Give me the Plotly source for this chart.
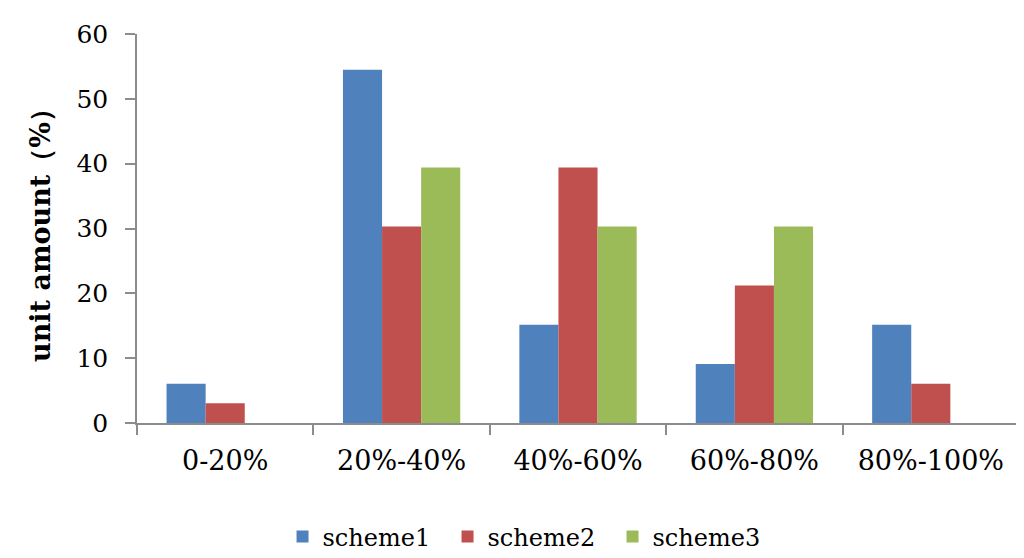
import plotly.graph_objects as go

categories = ['0-20%', '20%-40%', '40%-60%', '60%-80%', '80%-100%']
scheme1 = [6.06, 54.5, 15.15, 9.09, 15.15]
scheme2 = [3.03, 30.3, 39.4, 21.2, 6.06]
scheme3 = [0, 39.4, 30.3, 30.3, 0]

colors = ['#4F81BD', '#C0504D', '#9BBB59']
font = 'DejaVu Serif, serif'

fig = go.Figure()
for name, vals, c in zip(['scheme1', 'scheme2', 'scheme3'],
                         [scheme1, scheme2, scheme3], colors):
    fig.add_trace(go.Bar(x=categories, y=vals, name=name,
                         marker=dict(color=c, line=dict(width=0))))

fig.update_layout(
    width=1024, height=558,
    margin=dict(l=129, r=13, t=26, b=143),
    plot_bgcolor='white', paper_bgcolor='white',
    barmode='group', bargap=0.335, bargroupgap=0,
    font=dict(family=font, size=24, color='black'),
    legend=dict(orientation='h', x=0.165, xanchor='left',
                y=0.052, yref='container', yanchor='middle',
                font=dict(size=24), itemwidth=30, traceorder='normal',
                entrywidth=120, entrywidthmode='pixels'),
    showlegend=True,
)
fig.update_xaxes(showline=True, linecolor='#8c8c8c', linewidth=1.5,
                 ticks='outside', tickson='boundaries', ticklen=10,
                 tickcolor='#8c8c8c', tickwidth=1.5, showgrid=False,
                 tickfont=dict(size=27), ticklabelstandoff=13, automargin=False)
fig.update_yaxes(range=[0, 60], dtick=10, showline=True, linecolor='#8c8c8c',
                 linewidth=1.5, ticks='outside', ticklen=10, tickcolor='#8c8c8c',
                 tickwidth=1.5, showgrid=False, zeroline=False,
                 tickfont=dict(size=25), ticklabelstandoff=12, automargin=False,
                 title=dict(text='<b>unit amount（%）</b>', font=dict(size=27), standoff=18))

fig.write_html('out.html')
